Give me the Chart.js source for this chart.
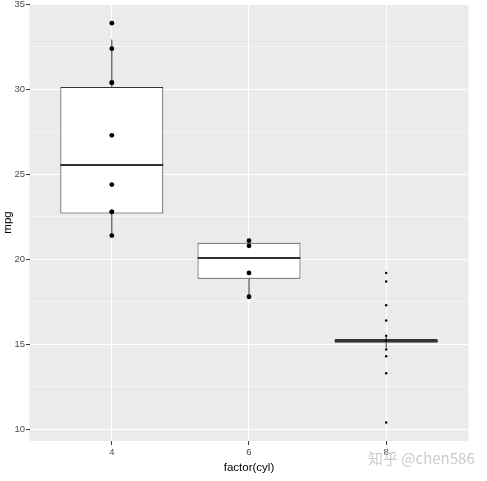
<!DOCTYPE html>
<html><head><meta charset="utf-8">
<script src="https://cdn.jsdelivr.net/npm/chart.js@4"></script>
<style>
html,body{margin:0;padding:0;background:#fff}
#wrap{position:relative;width:487px;height:481px}
#wm{position:absolute;left:368px;top:450px;font-family:"Noto Sans CJK SC","Liberation Sans",sans-serif;font-size:15px;line-height:16px;color:rgba(180,180,180,0.7);white-space:nowrap;text-shadow:0 0 1px #fff}
</style>
</head><body>
<div id="wrap"><canvas id="c" width="487" height="481"></canvas><div id="wm">知乎 @chen586</div></div>
<script>
const categories = ['4', '6', '8'];
const q1 = [22.7, 18.86, 15.09];
const median = [25.55, 20.08, 15.2];
const q3 = [30.15, 20.98, 15.31];
const whiskerLow = [21.4, 17.84, 14.8];
const whiskerHigh = [32.94, 20.98, 15.58];
const points4 = [33.9, 32.4, 30.4, 30.4, 27.3, 24.4, 22.8, 22.8, 21.4];
const points6 = [21.1, 20.8, 19.2, 17.8];
const points8 = [19.2, 18.7, 17.3, 16.4, 15.5, 15.2, 14.7, 14.3, 13.3, 10.4];
const yMajor = [10, 15, 20, 25, 30, 35];
const yMinor = [12.5, 17.5, 22.5, 27.5, 32.5];

const HALF = 0.375;
const boxData = categories.map((c, i) => ({x: i + 1, y: [q1[i], q3[i]]}));
const medianData = [];
const whiskerData = [];
categories.forEach((c, i) => {
  medianData.push({x: i + 1 - HALF, y: median[i]}, {x: i + 1 + HALF, y: median[i]}, {x: i + 1.5, y: null});
  whiskerData.push({x: i + 1, y: whiskerLow[i]}, {x: i + 1, y: q1[i]}, {x: i + 1.2, y: null});
  whiskerData.push({x: i + 1, y: q3[i]}, {x: i + 1, y: whiskerHigh[i]}, {x: i + 1.2, y: null});
});
const pts = (arr, xi) => arr.map(v => ({x: xi, y: v}));

const panelBg = {
  id: 'panelBg',
  beforeDraw(chart) {
    const {ctx, chartArea: a} = chart;
    ctx.save();
    ctx.fillStyle = '#EBEBEB';
    ctx.fillRect(a.left, a.top, a.right - a.left, a.bottom - a.top);
    ctx.restore();
  }
};
const isMajor = v => yMajor.includes(v);

new Chart(document.getElementById('c'), {
  type: 'bar',
  data: {
    datasets: [
      {type: 'scatter', data: pts(points4, 1), pointRadius: 2.4, pointBackgroundColor: '#000', pointBorderWidth: 0, order: 0},
      {type: 'scatter', data: pts(points6, 2), pointRadius: 2.4, pointBackgroundColor: '#000', pointBorderWidth: 0, order: 0},
      {type: 'scatter', data: pts(points8, 3), pointRadius: 1.2, pointBackgroundColor: '#000', pointBorderWidth: 0, order: 0},
      {type: 'line', data: medianData, borderColor: '#333333', borderWidth: 2, pointRadius: 0, spanGaps: false, order: 1},
      {type: 'bar', data: boxData, backgroundColor: ['#ffffff', '#ffffff', '#333333'], borderColor: '#333333', borderWidth: 1, borderSkipped: false, barPercentage: 0.75, categoryPercentage: 1, order: 2},
      {type: 'line', data: whiskerData, borderColor: '#333333', borderWidth: 1, pointRadius: 0, spanGaps: false, order: 3}
    ]
  },
  options: {
    responsive: false,
    animation: false,
    layout: {padding: {top: 3, right: 18.5, left: 0, bottom: 0}},
    plugins: {legend: {display: false}, tooltip: {enabled: false}},
    scales: {
      x: {
        type: 'linear', min: 0.4, max: 3.6, offset: false,
        afterBuildTicks: s => { s.ticks = categories.map((c, i) => ({value: i + 1})); },
        afterFit: s => { s.height = 40; s.paddingLeft = 0; s.paddingRight = 0; },
        ticks: {callback: v => categories[v - 1] ?? '', color: '#4D4D4D', font: {family: 'Liberation Sans', size: 9.5}, padding: 2, autoSkip: false, maxRotation: 0},
        grid: {offset: false, color: '#ffffff', lineWidth: 1.1, tickColor: '#333333', tickLength: 4, tickWidth: 1},
        border: {display: false},
        title: {display: true, text: 'factor(cyl)', color: '#000', font: {family: 'Liberation Sans', size: 11.5}, padding: {top: 2, bottom: 6}}
      },
      y: {
        type: 'linear', min: 9.31, max: 35.03,
        afterBuildTicks: s => { s.ticks = yMajor.concat(yMinor).sort((a, b) => a - b).map(v => ({value: v})); },
        afterFit: s => { s.width = 29.5; s.paddingTop = 0; s.paddingBottom = 0; },
        ticks: {callback: v => isMajor(v) ? String(v) : '', color: '#4D4D4D', font: {family: 'Liberation Sans', size: 9.5}, padding: 1, autoSkip: false},
        grid: {
          color: '#ffffff',
          lineWidth: c => isMajor(c.tick.value) ? 1.1 : 0.55,
          tickColor: c => isMajor(c.tick.value) ? '#333333' : 'rgba(0,0,0,0)',
          tickLength: 3.5, tickWidth: 1
        },
        border: {display: false},
        title: {display: true, text: 'mpg', color: '#000', font: {family: 'Liberation Sans', size: 11.5}, padding: {top: 1, bottom: 2}}
      }
    }
  },
  plugins: [panelBg]
});
</script>
</body></html>
